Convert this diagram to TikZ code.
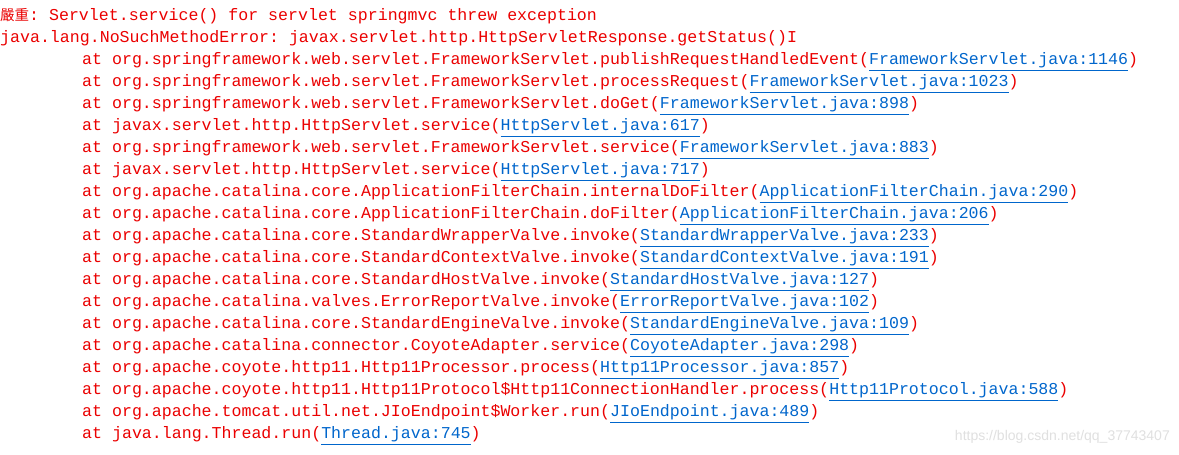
\documentclass[tikz,border=0pt]{standalone}
\usepackage{fontspec}
\setmonofont{Liberation Mono}
\setsansfont{Liberation Sans}
\newfontfamily\cjk{Noto Sans CJK SC}
\definecolor{errred}{RGB}{235,0,0}
\definecolor{lnk}{RGB}{0,102,204}
\newcommand{\lk}[1]{\textcolor{lnk}{\underline{#1}}}
\begin{document}
\begin{tikzpicture}[x=1pt,y=1pt,
  ln/.style={anchor=base west,inner sep=0pt,text=errred,font=\fontsize{16.6}{18}\ttfamily}]
\useasboundingbox[fill=white] (0,0) rectangle (1179,455);
\def\Y#1{455-21-22*#1}
\node[ln] (l0) at (0,{\Y{0}}) {{\cjk\fontsize{14.5}{16}\selectfont 嚴重}: Servlet.service() for servlet springmvc threw exception};
\node[ln] (l1) at (0,{\Y{1}}) {java.lang.NoSuchMethodError: javax.servlet.http.HttpServletResponse.getStatus()I};
\node[ln] (l2) at (82,{\Y{2}}) {at org.springframework.web.servlet.FrameworkServlet.publishRequestHandledEvent(\lk{FrameworkServlet.java:1146})};
\node[ln] (l3) at (82,{\Y{3}}) {at org.springframework.web.servlet.FrameworkServlet.processRequest(\lk{FrameworkServlet.java:1023})};
\node[ln] (l4) at (82,{\Y{4}}) {at org.springframework.web.servlet.FrameworkServlet.doGet(\lk{FrameworkServlet.java:898})};
\node[ln] (l5) at (82,{\Y{5}}) {at javax.servlet.http.HttpServlet.service(\lk{HttpServlet.java:617})};
\node[ln] (l6) at (82,{\Y{6}}) {at org.springframework.web.servlet.FrameworkServlet.service(\lk{FrameworkServlet.java:883})};
\node[ln] (l7) at (82,{\Y{7}}) {at javax.servlet.http.HttpServlet.service(\lk{HttpServlet.java:717})};
\node[ln] (l8) at (82,{\Y{8}}) {at org.apache.catalina.core.ApplicationFilterChain.internalDoFilter(\lk{ApplicationFilterChain.java:290})};
\node[ln] (l9) at (82,{\Y{9}}) {at org.apache.catalina.core.ApplicationFilterChain.doFilter(\lk{ApplicationFilterChain.java:206})};
\node[ln] (l10) at (82,{\Y{10}}) {at org.apache.catalina.core.StandardWrapperValve.invoke(\lk{StandardWrapperValve.java:233})};
\node[ln] (l11) at (82,{\Y{11}}) {at org.apache.catalina.core.StandardContextValve.invoke(\lk{StandardContextValve.java:191})};
\node[ln] (l12) at (82,{\Y{12}}) {at org.apache.catalina.core.StandardHostValve.invoke(\lk{StandardHostValve.java:127})};
\node[ln] (l13) at (82,{\Y{13}}) {at org.apache.catalina.valves.ErrorReportValve.invoke(\lk{ErrorReportValve.java:102})};
\node[ln] (l14) at (82,{\Y{14}}) {at org.apache.catalina.core.StandardEngineValve.invoke(\lk{StandardEngineValve.java:109})};
\node[ln] (l15) at (82,{\Y{15}}) {at org.apache.catalina.connector.CoyoteAdapter.service(\lk{CoyoteAdapter.java:298})};
\node[ln] (l16) at (82,{\Y{16}}) {at org.apache.coyote.http11.Http11Processor.process(\lk{Http11Processor.java:857})};
\node[ln] (l17) at (82,{\Y{17}}) {at org.apache.coyote.http11.Http11Protocol\$Http11ConnectionHandler.process(\lk{Http11Protocol.java:588})};
\node[ln] (l18) at (82,{\Y{18}}) {at org.apache.tomcat.util.net.JIoEndpoint\$Worker.run(\lk{JIoEndpoint.java:489})};
\node[ln] (l19) at (82,{\Y{19}}) {at java.lang.Thread.run(\lk{Thread.java:745})};
\node[anchor=base east,inner sep=0pt,text=black!12,font=\sffamily\fontsize{14}{16}\selectfont] (wm) at (1170,{455-441}) {https://blog.csdn.net/qq\_37743407};
\end{tikzpicture}
\end{document}
